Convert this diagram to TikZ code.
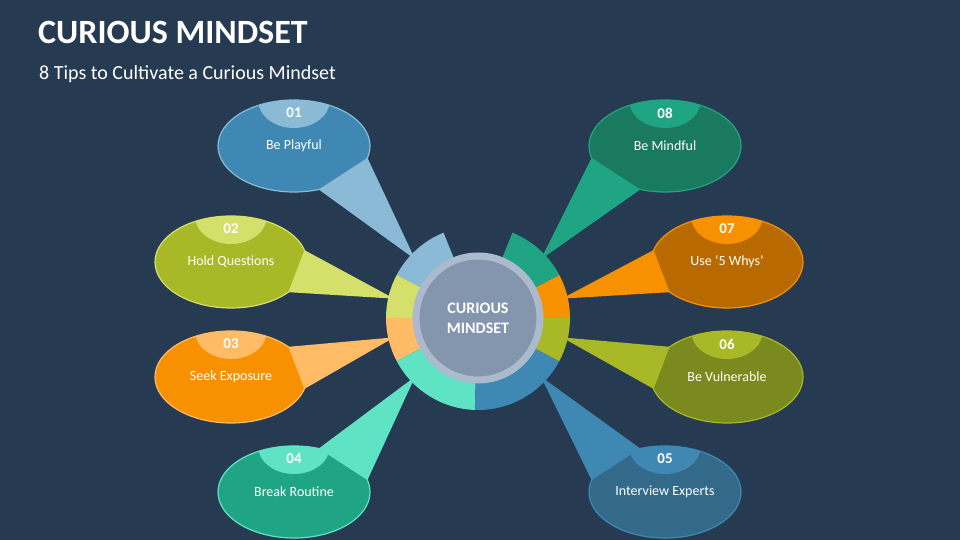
\documentclass[tikz,border=0pt]{standalone}
\usepackage{fontspec}
\setmainfont{Carlito}
\usetikzlibrary{shapes.geometric,calc}
\definecolor{bg}{HTML}{263A52}
\definecolor{cfill}{HTML}{8496AD}
\definecolor{cring}{HTML}{ACBACE}
\begin{document}
\begin{tikzpicture}[x=1pt,y=1pt,
  tiptext/.style={text=white,font=\fontsize{14}{16}\selectfont},
  numtext/.style={text=white,font=\bfseries\fontsize{15}{17}\selectfont}]
\fill[bg] (0,0) rectangle (960,540);
\useasboundingbox (0,0) rectangle (960,540);
\node[anchor=base west,text=white,font=\bfseries\fontsize{34}{38}\selectfont,inner sep=0] (title) at (38,496) {CURIOUS MINDSET};
\node[anchor=base west,text=white,font=\fontsize{20}{24}\selectfont,inner sep=0] (sub) at (39,460) {8 Tips to Cultivate a Curious Mindset};
\coordinate (c) at (478,222);
% sectors
\newcommand{\sect}[3]{\fill[#3] (c) -- ++(#1:92) arc[start angle=#1,end angle=#2,radius=92] -- cycle;}
\definecolor{la}{HTML}{8ABAD6}\definecolor{da}{HTML}{3F88B4}
\definecolor{lb}{HTML}{D4E06A}\definecolor{db}{HTML}{A8B826}
\definecolor{lc}{HTML}{FFBB66}\definecolor{dc}{HTML}{F79100}
\definecolor{ld}{HTML}{5EE3C4}\definecolor{dd}{HTML}{1FA584}
\definecolor{le}{HTML}{3F88B4}\definecolor{de}{HTML}{336A8A}
\definecolor{lf}{HTML}{A8B826}\definecolor{df}{HTML}{7A8A1E}
\definecolor{lg}{HTML}{F79100}\definecolor{dg}{HTML}{B86A00}
\definecolor{lh}{HTML}{1FA584}\definecolor{dh}{HTML}{1A7A60}
\sect{112}{152}{la}
\sect{152}{180}{lb}
\sect{180}{208}{lc}
\sect{208}{268}{ld}
\sect{268}{332}{le}
\sect{332}{360}{lf}
\sect{0}{28}{lg}
\sect{28}{68}{lh}
% tips
\newcommand{\tip}[8]{%
  \node[ellipse,minimum width=152,minimum height=92,inner sep=0,fill=#5] (e#1) at (#2,#3) {};
  \fill[#6] ($(e#1.center)+(#4+180-28:76 and 46)$) -- ($(c)+(#4:86)$) -- ($(e#1.center)+(#4+180+28:76 and 46)$) -- cycle;
  \begin{scope}
    \clip (#2,#3) ellipse (76 and 46);
    \fill[#6] (#2,#3+46) ellipse (36 and 28);
  \end{scope}
  \draw[#6,line width=1.2] (#2,#3) ellipse (76 and 46);
  \node[numtext] (n#1) at (#2,#3+33) {#7};
  \node[tiptext] (t#1) at (#2,#3) {#8};
}
\tip{1}{294}{394}{137}{da}{la}{01}{Be Playful}
\tip{2}{231}{278}{167}{db}{lb}{02}{Hold Questions}
\tip{3}{231}{163}{193}{dc}{lc}{03}{Seek Exposure}
\tip{4}{294}{48}{223}{dd}{ld}{04}{Break Routine}
\tip{5}{665}{48}{317}{de}{le}{05}{Interview Experts}
\tip{6}{727}{163}{347}{df}{lf}{06}{Be Vulnerable}
\tip{7}{727}{278}{13}{dg}{lg}{07}{Use ‘5 Whys’}
\tip{8}{665}{394}{43}{dh}{lh}{08}{Be Mindful}
% center
\node[circle,minimum size=124,inner sep=0,fill=cfill,draw=cring,line width=7,text=white,align=center,font=\bfseries\fontsize{16}{20}\selectfont] (center) at (c) {CURIOUS\\MINDSET};
\end{tikzpicture}
\end{document}
